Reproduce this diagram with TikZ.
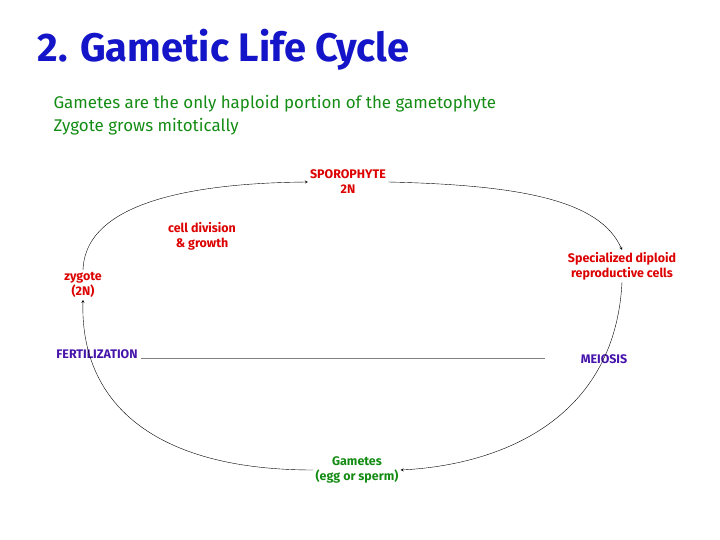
\documentclass[tikz,border=0pt]{standalone}
\usepackage{fontspec}
\setmainfont{Fira Sans}
\usetikzlibrary{arrows, positioning}
\definecolor{titleblue}{RGB}{20,20,200}
\definecolor{stagered}{RGB}{220,0,0}
\definecolor{notegreen}{RGB}{20,140,20}
\definecolor{eventpurple}{RGB}{70,20,170}
\tikzstyle{stage} = [align=center, font=\fontsize{12.5}{15}\selectfont\bfseries, text=stagered, inner sep=2pt]
\tikzstyle{event} = [font=\fontsize{12.5}{15}\selectfont\bfseries, text=eventpurple]
\tikzstyle{arrow} = [thin,->,>=stealth]
\begin{document}
\begin{tikzpicture}[x=1bp, y=-1bp]
		\useasboundingbox (0,0) rectangle (720,540);
		\node (Title) [anchor=west, text=titleblue, font=\fontsize{40}{46}\selectfont\bfseries] at (34,50) {2. Gametic Life Cycle};
		\node (Notes) [anchor=north west, align=left, text=notegreen, font=\fontsize{17}{23}\selectfont] at (50,92) {Gametes are the only haploid portion of the gametophyte\\Zygote grows mitotically};
		\node (Sporophyte) [stage] at (348,182) {SPOROPHYTE\\2N};
		\node (Diploid) [stage] at (622,266) {Specialized diploid\\reproductive cells};
		\node (Zygote) [stage] at (83,285) {zygote\\(2N)};
		\node (Growth) [stage] at (202,236) {cell division\\\& growth};
		\node (Gametes) [stage, text=notegreen] at (357,470) {Gametes\\(egg or sperm)};
		\node (Fertilization) [event] at (97,354) {FERTILIZATION};
		\node (Meiosis) [event] at (604,359) {MEIOSIS};
		\coordinate (LineEnd) at (545,358);
		\draw [gray] (Fertilization.east |- LineEnd) -- (LineEnd);
		\draw [arrow] (Zygote.north) .. controls (85,200) and (200,183) .. (Sporophyte.west);
		\draw [arrow] (Sporophyte.east) .. controls (520,185) and (600,200) .. (Diploid.north);
		\draw [arrow] (Diploid.south) .. controls (615,420) and (500,465) .. (Gametes.east);
		\draw [arrow] (Gametes.west) .. controls (150,470) and (80,400) .. (Zygote.south);
\end{tikzpicture}
\end{document}
